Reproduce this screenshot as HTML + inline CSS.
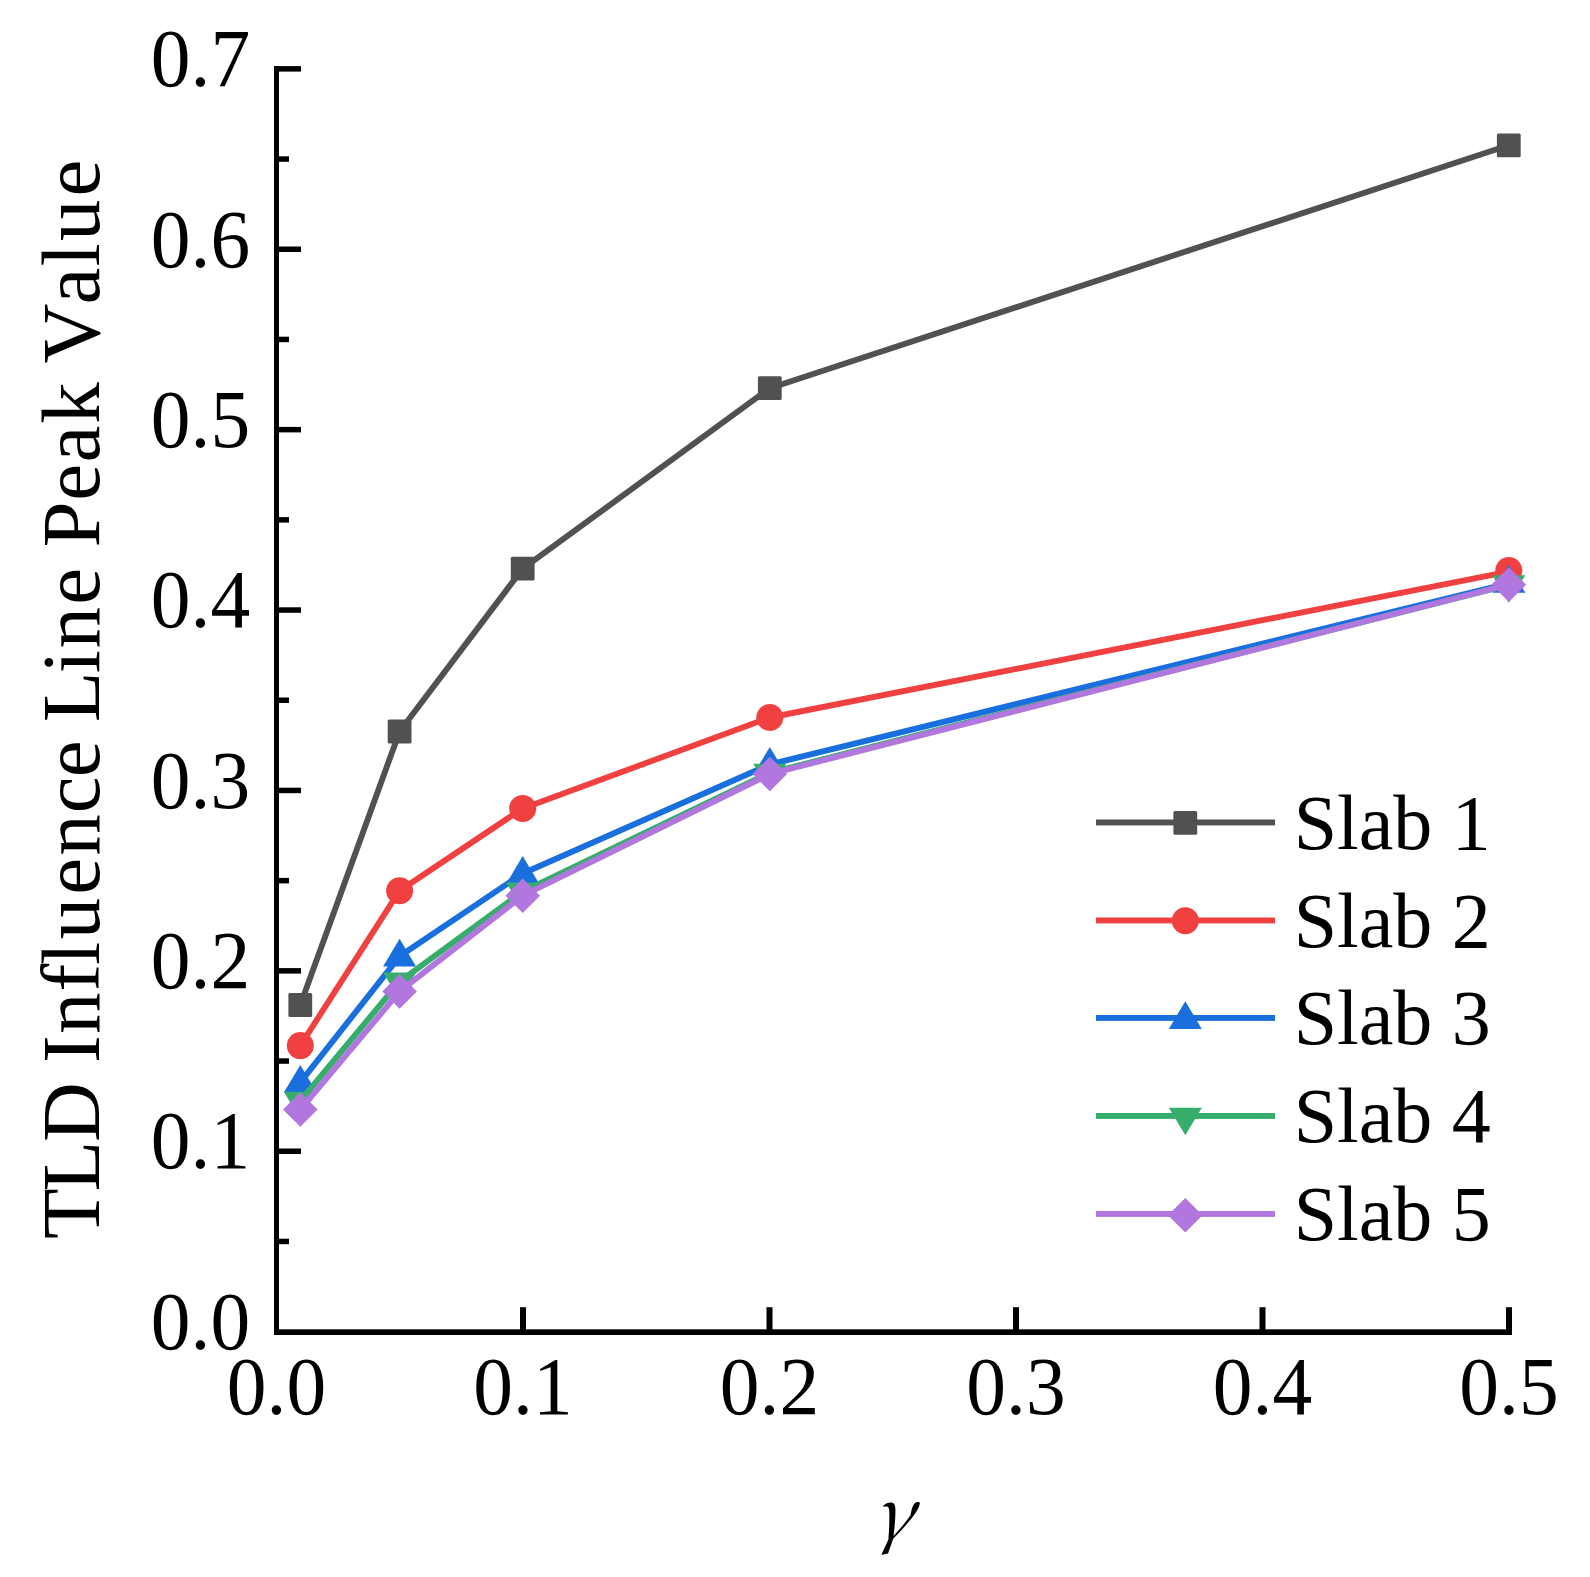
<!DOCTYPE html>
<html lang="en">
<head>
<meta charset="utf-8">
<title>TLD Influence Line Peak Value</title>
<style>
html,body{margin:0;padding:0;background:#fff;}
body{width:1590px;height:1577px;overflow:hidden;}
svg{display:block;}
text{font-family:"Liberation Serif","DejaVu Serif",serif;fill:#000;}
.tk{font-size:81.5px;}
.lg{font-size:78px;}
.yt{font-size:83px;white-space:pre;}
.xt{font-family:"Noto Serif CJK SC","Liberation Serif",serif;font-size:71.5px;}
</style>
</head>
<body>
<svg width="1590" height="1577" viewBox="0 0 1590 1577">
<rect x="0" y="0" width="1590" height="1577" fill="#ffffff"/>

<g id="series" fill="none" stroke-linejoin="round" stroke-linecap="butt">
<polyline points="300.3,1005.0 399.6,731.5 522.7,568.7 769.8,388.2 1508.8,145.3" stroke="#515151" stroke-width="5.9"/>
<rect x="288.4" y="993.1" width="23.8" height="23.8" rx="1.5" fill="#515151"/>
<rect x="387.7" y="719.6" width="23.8" height="23.8" rx="1.5" fill="#515151"/>
<rect x="510.8" y="556.8" width="23.8" height="23.8" rx="1.5" fill="#515151"/>
<rect x="757.9" y="376.3" width="23.8" height="23.8" rx="1.5" fill="#515151"/>
<rect x="1496.9" y="133.4" width="23.8" height="23.8" rx="1.5" fill="#515151"/>
<polyline points="300.3,1045.6 399.6,890.7 522.7,808.4 769.8,717.5 1508.8,571.6" stroke="#F14040" stroke-width="5.9"/>
<circle cx="300.3" cy="1045.6" r="13.5" fill="#F14040"/>
<circle cx="399.6" cy="890.7" r="13.5" fill="#F14040"/>
<circle cx="522.7" cy="808.4" r="13.5" fill="#F14040"/>
<circle cx="769.8" cy="717.5" r="13.5" fill="#F14040"/>
<circle cx="1508.8" cy="570.6" r="13.5" fill="#F14040"/>
<polyline points="300.3,1082.4 399.6,956.3 522.7,873.5 769.8,764.4 1508.8,583.4" stroke="#1A6FDF" stroke-width="5.9"/>
<polygon points="300.3,1064.9 283.8,1092.6 316.8,1092.6" fill="#1A6FDF"/>
<polygon points="399.6,938.8 383.1,966.5 416.1,966.5" fill="#1A6FDF"/>
<polygon points="522.7,856.0 506.2,883.7 539.2,883.7" fill="#1A6FDF"/>
<polygon points="769.8,746.9 753.3,774.6 786.3,774.6" fill="#1A6FDF"/>
<polygon points="1508.8,565.0 1492.3,592.7 1525.3,592.7" fill="#1A6FDF"/>
<polyline points="300.3,1100.8 399.6,981.6 522.7,891.6 769.8,772.8 1508.8,584.8" stroke="#37AD6B" stroke-width="5.9"/>
<polygon points="300.3,1119.3 283.8,1091.8 316.8,1091.8" fill="#37AD6B"/>
<polygon points="399.6,1000.1 383.1,972.6 416.1,972.6" fill="#37AD6B"/>
<polygon points="522.7,910.1 506.2,882.6 539.2,882.6" fill="#37AD6B"/>
<polygon points="769.8,791.3 753.3,763.8 786.3,763.8" fill="#37AD6B"/>
<polygon points="1508.8,602.7 1492.3,575.2 1525.3,575.2" fill="#37AD6B"/>
<polyline points="300.3,1109.5 399.6,991.4 522.7,895.7 769.8,774.0 1508.8,584.6" stroke="#B177DE" stroke-width="5.9"/>
<polygon points="300.3,1092.2 317.6,1109.5 300.3,1126.8 283.0,1109.5" fill="#B177DE"/>
<polygon points="399.6,974.1 416.9,991.4 399.6,1008.7 382.3,991.4" fill="#B177DE"/>
<polygon points="522.7,878.4 540.0,895.7 522.7,913.0 505.4,895.7" fill="#B177DE"/>
<polygon points="769.8,756.7 787.1,774.0 769.8,791.3 752.5,774.0" fill="#B177DE"/>
<polygon points="1508.8,567.3 1526.1,584.6 1508.8,601.9 1491.5,584.6" fill="#B177DE"/>
</g>
<g id="axes" fill="#000">
<rect x="274.0" y="66.0" width="5" height="1269.0"/>
<rect x="274.0" y="1329.3" width="1238.0" height="5.7"/>
<rect x="274.0" y="1238.7" width="15" height="5.5"/>
<rect x="274.0" y="1148.5" width="27" height="5.5"/>
<rect x="274.0" y="1058.3" width="15" height="5.5"/>
<rect x="274.0" y="968.1" width="27" height="5.5"/>
<rect x="274.0" y="877.9" width="15" height="5.5"/>
<rect x="274.0" y="787.7" width="27" height="5.5"/>
<rect x="274.0" y="697.5" width="15" height="5.5"/>
<rect x="274.0" y="607.3" width="27" height="5.5"/>
<rect x="274.0" y="517.1" width="15" height="5.5"/>
<rect x="274.0" y="426.9" width="27" height="5.5"/>
<rect x="274.0" y="336.7" width="15" height="5.5"/>
<rect x="274.0" y="246.5" width="27" height="5.5"/>
<rect x="274.0" y="156.3" width="15" height="5.5"/>
<rect x="274.0" y="66.1" width="27" height="5.5"/>
<rect x="520.0" y="1307.2" width="6" height="27"/>
<rect x="766.5" y="1307.2" width="6" height="27"/>
<rect x="1013.0" y="1307.2" width="6" height="27"/>
<rect x="1259.5" y="1307.2" width="6" height="27"/>
<rect x="1506.0" y="1307.2" width="6" height="27"/>
</g>
<g id="ticklabels" class="tk">
<text transform="translate(150.8,1348.7) scale(0.975,1)">0.0</text>
<text transform="translate(150.8,1168.4) scale(0.975,1)">0.1</text>
<text transform="translate(150.8,988.0) scale(0.975,1)">0.2</text>
<text transform="translate(150.8,807.6) scale(0.975,1)">0.3</text>
<text transform="translate(150.8,627.3) scale(0.975,1)">0.4</text>
<text transform="translate(150.8,446.9) scale(0.975,1)">0.5</text>
<text transform="translate(150.8,266.6) scale(0.975,1)">0.6</text>
<text transform="translate(150.8,86.2) scale(0.975,1)">0.7</text>
<text transform="translate(226.8,1414.3) scale(0.975,1)">0.0</text>
<text transform="translate(473.3,1414.3) scale(0.975,1)">0.1</text>
<text transform="translate(719.8,1414.3) scale(0.975,1)">0.2</text>
<text transform="translate(966.3,1414.3) scale(0.975,1)">0.3</text>
<text transform="translate(1212.8,1414.3) scale(0.975,1)">0.4</text>
<text transform="translate(1459.3,1414.3) scale(0.975,1)">0.5</text>
</g>
<text class="yt" transform="translate(99.1,1237.7) rotate(-90)" x="-1.4 46.3 95.7 155.2 174.7 203.6 246.2 272.8 298.5 343.0 382.0 424.4 460.4 496.9 515.5 564.5 589.3 633.0 669.5 690.1 737.0 775.2 814.0 855.8 874.1 933.3 971.1 996.7 1041.2" y="0">TLD Influence Line Peak Value</text>
<text class="xt" transform="translate(870.6,1540.1) scale(1.03,1) skewX(-20)">γ</text>
<g id="legend">
<rect x="1096" y="819.5" width="179" height="5.9" fill="#515151"/>
<rect x="1173.4" y="811.0" width="23.8" height="23.8" rx="1.5" fill="#515151"/>
<text class="lg" x="1293.7" y="848.8">Slab 1</text>
<rect x="1096" y="917.5" width="179" height="5.9" fill="#F14040"/>
<circle cx="1185.3" cy="920.8" r="13.5" fill="#F14040"/>
<text class="lg" x="1293.7" y="946.8">Slab 2</text>
<rect x="1096" y="1015.0" width="179" height="5.9" fill="#1A6FDF"/>
<polygon points="1185.3,1001.2 1168.8,1028.9 1201.8,1028.9" fill="#1A6FDF"/>
<text class="lg" x="1293.7" y="1044.3">Slab 3</text>
<rect x="1096" y="1113.0" width="179" height="5.9" fill="#37AD6B"/>
<polygon points="1185.3,1135.2 1168.8,1107.7 1201.8,1107.7" fill="#37AD6B"/>
<text class="lg" x="1293.7" y="1142.3">Slab 4</text>
<rect x="1096" y="1211.0" width="179" height="5.9" fill="#B177DE"/>
<polygon points="1185.3,1197.9 1202.6,1215.2 1185.3,1232.5 1168.0,1215.2" fill="#B177DE"/>
<text class="lg" x="1293.7" y="1240.3">Slab 5</text>
</g>
</svg>
</body>
</html>
